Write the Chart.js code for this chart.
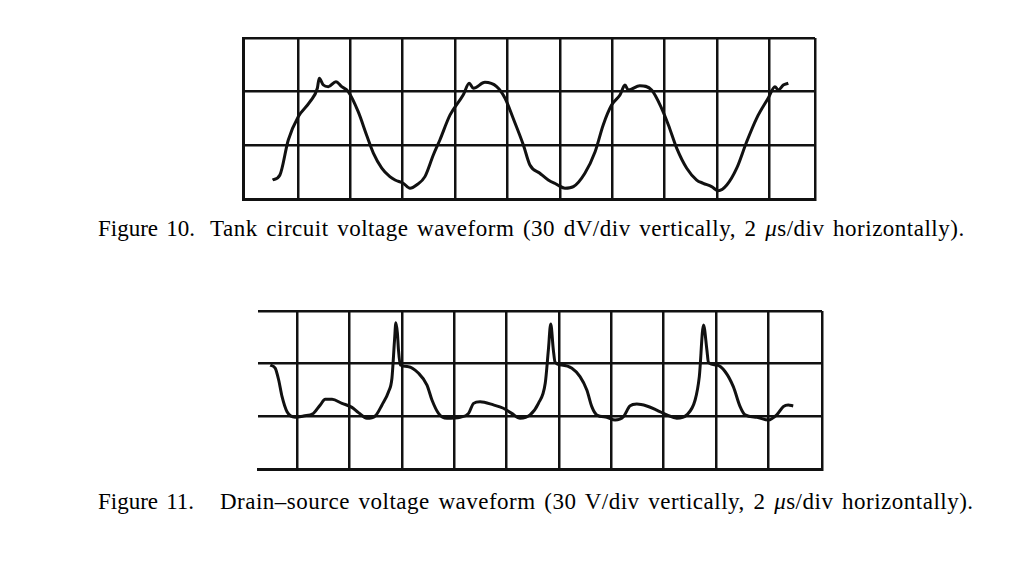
<!DOCTYPE html>
<html>
<head>
<meta charset="utf-8">
<script src="https://cdn.jsdelivr.net/npm/chart.js@4.4.1/dist/chart.umd.min.js"></script>
<style>
  html, body { margin: 0; padding: 0; background: #fff; }
  body { width: 1024px; height: 568px; position: relative; overflow: hidden; }
  canvas { position: absolute; }
  #tank { left: 239px; top: 34px; }
  #drain { left: 254px; top: 307px; }
  .caption {
    position: absolute;
    left: 98px;
    font-family: "Liberation Serif", "Times New Roman", serif;
    font-size: 23px;
    line-height: 22px;
    color: #000;
    white-space: nowrap;
    letter-spacing: 0.5px;
    word-spacing: 2.4px;
  }
  .caption .num { display: inline-block; letter-spacing: 0; }
  #cap10 { top: 218px; }
  #cap10 .num { width: 112px; }
  #cap11 { top: 491px; }
  #cap11 .num { width: 122px; }
</style>
</head>
<body>
<canvas id="tank" width="580" height="169"></canvas>
<div class="caption" id="cap10"><span class="num">Figure 10.</span>Tank circuit voltage waveform (30 dV/div vertically, 2 <i>μ</i>s/div horizontally).</div>
<canvas id="drain" width="572" height="166"></canvas>
<div class="caption" id="cap11"><span class="num">Figure 11.</span>Drain–source voltage waveform (30 V/div vertically, 2 <i>μ</i>s/div horizontally).</div>

<script>
// Figure 10 - tank circuit voltage, time in us, voltage in dV (30 dV/div)
const tankTime = [1.03, 1.31, 1.63, 2.01, 2.46, 2.74, 2.81, 2.97, 3.16, 3.45, 3.67, 3.92, 4.30, 4.62, 4.88, 5.20,
  5.51, 5.71, 6.02, 6.28, 6.53, 6.85, 7.17, 7.42, 7.81, 8.31, 8.54, 8.70, 9.14, 9.59, 9.91, 10.22, 10.61, 10.86,
  11.24, 11.56, 11.88, 12.20, 12.52, 12.96, 13.35, 13.66, 13.98, 14.30, 14.49, 14.62, 15.06, 15.51, 15.89, 16.15,
  16.47, 16.85, 17.23, 17.48, 17.80, 18.06, 18.38, 18.76, 19.14, 19.52, 19.96, 20.22, 20.35, 20.54, 20.73];
const tankVolts = [-34.4, -31.6, -12.0, 1.0, 9.4, 16.9, 22.5, 18.7, 17.8, 20.6, 17.8, 15.0, 3.8, -9.2, -19.3, -27.7,
  -32.5, -34.4, -36.2, -39.0, -37.2, -32.5, -20.4, -12.0, 2.0, 13.1, 19.7, 16.9, 20.2, 17.8, 11.3, 0.1, -14.8, -26.0,
  -30.6, -34.4, -36.8, -39.0, -38.1, -30.6, -18.6, -3.6, 7.5, 13.1, 18.7, 15.9, 18.3, 15.9, 5.7, -3.6,
  -16.7, -27.8, -34.4, -36.2, -38.1, -40.4, -37.2, -27.8, -13.0, 0.1, 11.3, 17.8, 15.9, 18.7, 19.7];

// Figure 11 - drain-source voltage, time in us, voltage in V (30 V/div)
const drainTime = [0.97, 1.16, 1.29, 1.42, 1.61, 1.92, 2.24, 2.62, 2.88, 3.07, 3.33, 3.71, 4.09, 4.34, 4.66, 4.98,
  5.24, 5.49, 5.62, 5.72, 5.77, 5.83, 5.87, 5.94, 6.25, 6.64, 6.96, 7.15, 7.40, 7.72, 8.23, 8.55, 8.74, 8.99,
  9.50, 9.88, 10.20, 10.52, 10.90, 11.22, 11.48, 11.60, 11.69, 11.79, 11.86, 12.11, 12.50, 12.81, 13.07, 13.26,
  13.45, 13.83, 14.15, 14.47, 14.72, 14.98, 15.36, 15.74, 16.13, 16.51, 16.89, 17.21, 17.37, 17.53, 17.66, 17.72,
  18.04, 18.36, 18.67, 18.93, 19.12, 19.57, 20.01, 20.33, 20.58, 20.77, 20.96];
const drainVolts = [29.2, 27.4, 20.7, 11.2, 2.6, -0.5, 0.2, 1.7, 6.5, 9.7, 9.7, 7.4, 5.1, 2.1, -1.1, 0.2,
  6.5, 14.0, 21.7, 43.5, 53.3, 47.3, 37.8, 29.2, 28.3, 24.5, 17.8, 9.3, 1.7, -1.1, -0.5, 1.7, 7.4, 8.3,
  6.5, 4.6, 1.7, -1.1, 0.8, 7.4, 18.8, 37.8, 52.6, 37.8, 30.6, 29.2, 27.4, 22.6, 15.0, 5.5,
  0.8, -0.5, -2.1, -0.2, 5.9, 7.0, 5.9, 3.6, 0.8, -1.1, 0.8, 9.3, 22.6, 52.0, 37.8, 30.6,
  29.2, 25.4, 16.9, 5.5, 0.8, -0.5, -2.1, 0.8, 5.5, 6.5, 5.9];

// graticule lines (scale edges included where a frame line is drawn)
const tankTimeGrid = [-0.1, 2, 4, 6, 8, 10, 12, 14, 16, 18, 20, 21.75];
const tankVoltGrid = [-45, -15, 15, 45];
const drainTimeGrid = [2, 4, 6, 8, 10, 12, 14, 16, 18, 20, 22.06];
const drainVoltGrid = [-30, 0, 30, 60];

const INK = '#111';

function makeScope(canvasId, time, volts, opts) {
  const points = time.map((t, i) => ({ x: t, y: volts[i] }));
  return new Chart(document.getElementById(canvasId), {
    type: 'line',
    data: {
      datasets: [{
        data: points,
        borderColor: INK,
        borderWidth: 3,
        pointRadius: 0,
        cubicInterpolationMode: 'monotone',
        fill: false,
      }],
    },
    options: {
      responsive: false,
      animation: false,
      devicePixelRatio: 1,
      layout: { padding: 4 },
      plugins: { legend: { display: false }, tooltip: { enabled: false } },
      scales: {
        x: {
          type: 'linear',
          min: opts.xMin,
          max: opts.xMax,
          afterBuildTicks: (axis) => { axis.ticks = opts.xGrid.map((v) => ({ value: v })); },
          ticks: { display: false },
          grid: { color: INK, lineWidth: 2.5, drawTicks: false },
          border: { color: INK, width: 3 },
        },
        y: {
          min: opts.yMin,
          max: opts.yMax,
          afterBuildTicks: (axis) => { axis.ticks = opts.yGrid.map((v) => ({ value: v })); },
          ticks: { display: false },
          grid: { color: INK, lineWidth: 2.5, drawTicks: false },
          border: { display: opts.leftFrame, color: INK, width: 3 },
        },
      },
    },
  });
}

makeScope('tank', tankTime, tankVolts, {
  xMin: -0.1, xMax: 21.75, xGrid: tankTimeGrid,
  yMin: -45, yMax: 45, yGrid: tankVoltGrid,
  leftFrame: true,
});

makeScope('drain', drainTime, drainVolts, {
  xMin: 0.5, xMax: 22.06, xGrid: drainTimeGrid,
  yMin: -30, yMax: 60, yGrid: drainVoltGrid,
  leftFrame: false,
});
</script>
</body>
</html>
